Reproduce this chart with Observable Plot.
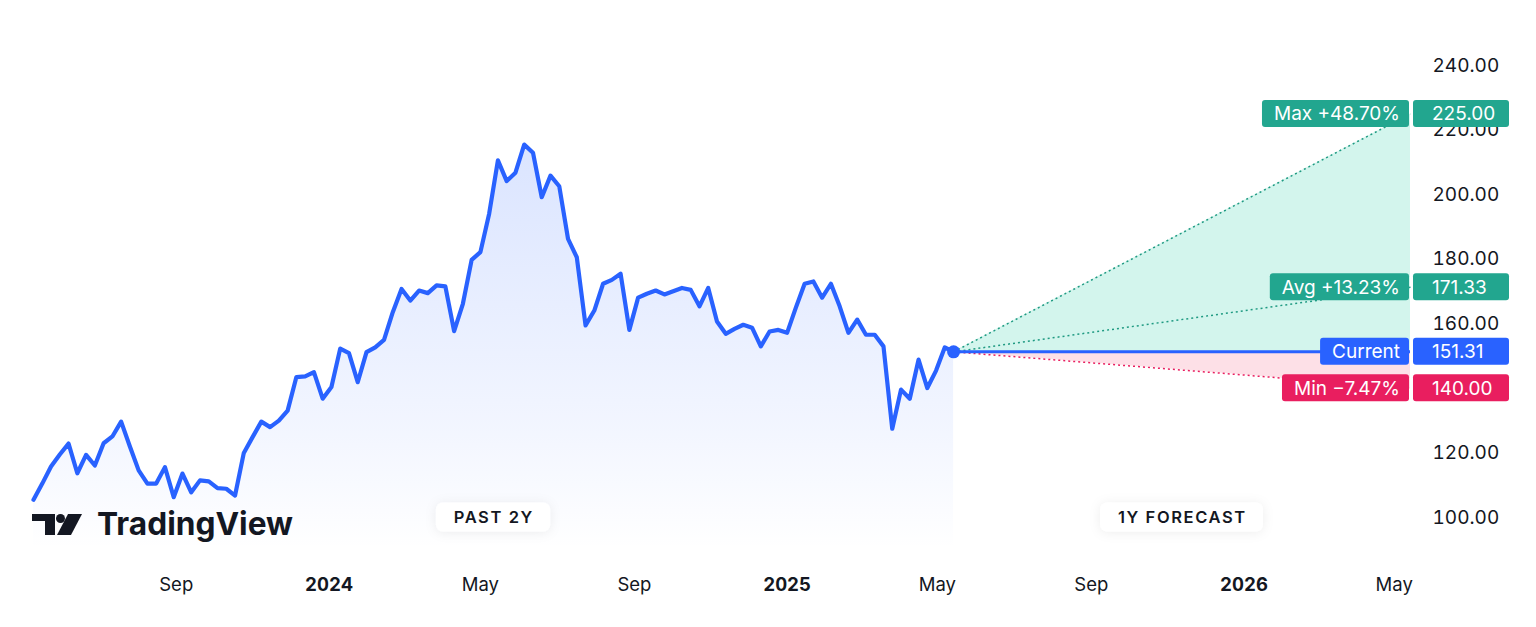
<!DOCTYPE html>
<html>
<head>
<meta charset="utf-8">
<script src="https://cdn.jsdelivr.net/npm/d3@7"></script>
<script src="https://cdn.jsdelivr.net/npm/@observablehq/plot@0.6"></script>
<style>
  html, body { margin: 0; padding: 0; background: #ffffff; }
  #chart svg { display: block; }
</style>
</head>
<body>
<div id="chart"></div>
<script>
// ---------- data ----------
const startDate = "2023-05-10";      // first weekly close
const forecastEnd = "2026-05-14";    // 1 year after the last close
const axisStart = "2023-05-06";
const prices = [
  105.5, 110.5, 115.8, 119.5, 122.9, 113.7, 119.4, 116.1, 123.0, 125.1,
  129.7, 122.0, 114.6, 110.5, 110.5, 115.6, 106.3, 113.6, 107.8, 111.5,
  111.2, 109.1, 108.9, 106.8, 120.0, 124.9, 129.7, 128.0, 130.0, 133.1,
  143.5, 143.7, 145.0, 136.8, 140.4, 152.3, 150.9, 141.9, 151.2, 152.7,
  155.0, 163.6, 170.8, 167.2, 170.3, 169.5, 171.9, 171.6, 157.7, 166.2,
  179.8, 182.2, 194.1, 210.6, 204.2, 206.8, 215.5, 213.0, 199.2, 205.9,
  202.6, 186.3, 180.6, 159.5, 164.1, 172.4, 173.6, 175.5, 158.1, 168.1,
  169.3, 170.3, 169.1, 170.1, 171.1, 170.5, 165.4, 171.1, 160.7, 156.9,
  158.4, 159.7, 158.8, 153.0, 157.6, 158.1, 157.2, 165.0, 172.4, 173.1,
  168.1, 172.4, 165.4, 157.2, 161.3, 156.6, 156.6, 153.0, 127.5, 139.6,
  136.8, 148.9, 140.1, 145.5, 152.7, 151.31
];
const forecastNames   = ["Max", "Avg", "Current", "Min"];
const forecastValues  = [225.00, 171.33, 151.31, 140.00];
const forecastChanges = ["+48.70%", "+13.23%", "", "\u22127.47%"];
const forecastColors  = ["#22a68f", "#22a68f", "#2962ff", "#e91e5f"];
const yDomain = [100, 240];
const yTicks = [100, 120, 160, 180, 200, 220, 240];   // 140 sits under the Min label
const monthTicks = ["2023-09-01", "2024-05-01", "2024-09-01", "2025-05-01", "2025-09-01", "2026-05-01"];
const yearTicks = ["2024-01-01", "2025-01-01", "2026-01-01"];
const badgeLabels = ["PAST 2Y", "1Y FORECAST"];
const brandName = "TradingView";

// ---------- derived tables ----------
const FONT = "Inter, 'Noto Sans', sans-serif";
const start = new Date(startDate);
const past = prices.map((price, i) => ({date: d3.utcDay.offset(start, 7 * i), price}));
const last = past[past.length - 1];
const endD = new Date(forecastEnd);
const current = forecastValues[2];
const targets = forecastNames.map((name, i) => ({
  name, value: forecastValues[i], change: forecastChanges[i], color: forecastColors[i]
}));
const upFill = [{date: last.date, lo: current, hi: current}, {date: endD, lo: current, hi: forecastValues[0]}];
const downFill = [{date: last.date, lo: current, hi: current}, {date: endD, lo: forecastValues[3], hi: current}];
const rays = targets.filter(d => d.name !== "Current");

const measureCtx = document.createElement("canvas").getContext("2d");
function textWidth(text, font) { measureCtx.font = font; return measureCtx.measureText(text).width; }

// ---------- custom render marks ----------
function defsMark() {
  const defs = d3.create("svg:defs");
  const g = defs.append("linearGradient").attr("id", "pastFill").attr("x1", 0).attr("y1", 0).attr("x2", 0).attr("y2", 1);
  g.append("stop").attr("offset", "0%").attr("stop-color", "#2962ff").attr("stop-opacity", 0.17);
  g.append("stop").attr("offset", "70%").attr("stop-color", "#2962ff").attr("stop-opacity", 0.06);
  g.append("stop").attr("offset", "100%").attr("stop-color", "#2962ff").attr("stop-opacity", 0.0);
  const f = defs.append("filter").attr("id", "badgeShadow").attr("x", "-40%").attr("y", "-80%").attr("width", "180%").attr("height", "260%");
  f.append("feDropShadow").attr("dx", 0).attr("dy", 1).attr("stdDeviation", 6)
    .attr("flood-color", "#000").attr("flood-opacity", 0.07);
  return defs.node();
}

function forecastLabels(index, scales, values, dims) {
  const g = d3.create("svg:g").attr("font-family", FONT).attr("font-size", 19);
  const right = dims.width - dims.marginRight;
  for (const t of targets) {
    const cy = scales.y(t.value);
    const text = t.change ? `${t.name} ${t.change}` : t.name;
    const w = textWidth(text, `19px ${FONT}`) + 21;
    g.append("rect").attr("x", right - 1 - w).attr("y", cy - 13.5).attr("width", w).attr("height", 27)
      .attr("rx", 3).attr("fill", t.color);
    g.append("text").attr("x", right - 10).attr("y", cy).attr("dy", "0.36em").attr("text-anchor", "end")
      .attr("fill", "#ffffff").text(text);
    g.append("rect").attr("x", right + 3).attr("y", cy - 13.5).attr("width", 96).attr("height", 27)
      .attr("rx", 3).attr("fill", t.color);
    g.append("text").attr("x", right + 22).attr("y", cy).attr("dy", "0.36em").attr("text-anchor", "start")
      .attr("fill", "#ffffff").text(t.value.toFixed(2));
  }
  return g.node();
}

function badges(index, scales, values, dims) {
  const g = d3.create("svg:g").attr("font-family", FONT).attr("font-size", 16.5).attr("font-weight", 600);
  const cy = scales.y(yDomain[0]);
  const centers = [
    (scales.x(past[0].date) + scales.x(last.date)) / 2,
    (scales.x(last.date) + scales.x(endD)) / 2
  ];
  badgeLabels.forEach((label, i) => {
    const spacing = 1.6;
    const w = textWidth(label, `600 16.5px ${FONT}`) + spacing * label.length + 34;
    g.append("rect").attr("x", centers[i] - w / 2).attr("y", cy - 14.5).attr("width", w).attr("height", 29)
      .attr("rx", 7).attr("fill", "#ffffff").attr("filter", "url(#badgeShadow)");
    g.append("text").attr("x", centers[i] + spacing / 2).attr("y", cy).attr("dy", "0.36em")
      .attr("text-anchor", "middle").attr("letter-spacing", spacing).attr("fill", "#131722").text(label);
  });
  return g.node();
}

function logo(index, scales, values, dims) {
  const x0 = dims.marginLeft + 4;
  const y0 = dims.height - dims.marginBottom - 41;
  const g = d3.create("svg:g").attr("fill", "#131722");
  g.append("path").attr("d", `M${x0},${y0}h23v21h-10v-14h-13z`);
  g.append("circle").attr("cx", x0 + 28.5).attr("cy", y0 + 4.5).attr("r", 4.5);
  g.append("path").attr("d", `M${x0 + 36},${y0}h14l-11,21h-14z`);
  const targetW = 196;
  const size = 30 * targetW / textWidth(brandName, `700 30px ${FONT}`);
  g.append("text").attr("x", x0 + 65).attr("y", y0 + 21).attr("text-anchor", "start")
    .attr("font-family", FONT).attr("font-size", size).attr("font-weight", 700)
    .text(brandName);
  return g.node();
}

// ---------- plot ----------
const chart = Plot.plot({
  width: 1536,
  height: 627,
  marginLeft: 28,
  marginRight: 126,
  marginTop: 20,
  marginBottom: 72,
  style: {fontFamily: FONT, fontSize: "19px", color: "#131722", background: "#ffffff", overflow: "visible"},
  x: {type: "utc", domain: [new Date(axisStart), endD], label: null},
  y: {domain: yDomain, range: [517, 65], label: null},
  marks: [
    defsMark,
    Plot.areaY(upFill, {x: "date", y1: "lo", y2: "hi", fill: "#d3f5ed"}),
    Plot.areaY(downFill, {x: "date", y1: "lo", y2: "hi", fill: "#fde0e7"}),
    Plot.link(rays, {
      x1: () => last.date, y1: () => current, x2: () => endD, y2: "value",
      stroke: d => d.name === "Min" ? "#e91e5f" : "#1f9a82",
      strokeWidth: 1.5, strokeDasharray: "2,3"
    }),
    Plot.ruleY([current], {x1: () => last.date, x2: () => endD, stroke: "#2962ff", strokeWidth: 3}),
    Plot.areaY(past, {x: "date", y1: () => 90, y2: "price", fill: "url(#pastFill)"}),
    Plot.lineY(past, {x: "date", y: "price", stroke: "#2962ff", strokeWidth: 4.2, strokeLinejoin: "round", strokeLinecap: "round"}),
    Plot.dot([last], {x: "date", y: "price", r: 6.5, fill: "#2962ff"}),
    Plot.axisY(yTicks, {anchor: "right", tickSize: 0, tickPadding: 22, tickFormat: d => d.toFixed(2), fontSize: 19, fill: "#131722", label: null}),
    Plot.axisX(monthTicks.map(d => new Date(d)), {tickSize: 0, tickPadding: 22, tickFormat: d3.utcFormat("%b"), fontSize: 18.5, fill: "#131722", label: null}),
    Plot.axisX(yearTicks.map(d => new Date(d)), {tickSize: 0, tickPadding: 22, tickFormat: d3.utcFormat("%Y"), fontSize: 18.5, fontWeight: 700, fill: "#131722", label: null}),
    forecastLabels,
    badges,
    logo
  ]
});
document.getElementById("chart").appendChild(chart);
</script>
</body>
</html>
